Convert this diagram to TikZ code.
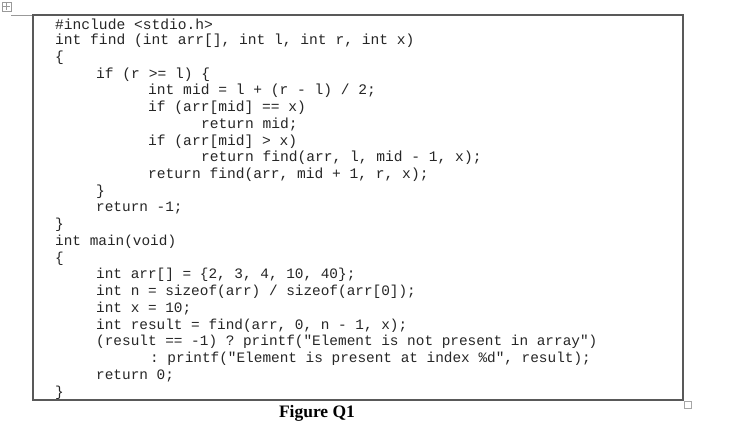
\documentclass[tikz,border=0pt]{standalone}
\usepackage{fontspec}
\setmainfont{Liberation Serif}
\setmonofont{Liberation Mono}
\begin{document}
\begin{tikzpicture}[x=1pt,y=-1pt,
  code/.style={anchor=west,inner sep=0pt,font=\ttfamily\fontsize{14.6}{16}\selectfont,text=black!85},
  codeb/.style={code,font=\ttfamily\fontsize{14.4}{16}\selectfont}]
\useasboundingbox (0,0) rectangle (753,423);
\fill[white] (0,0) rectangle (753,423);
\node[draw=black!40,minimum size=9pt,inner sep=0pt] (ic) at (6.5,6.5) {};
\draw[black!40,line width=0.6pt] (ic.center) ++(-3.5,0) -- ++(7,0) (ic.center) ++(0,-3.5) -- ++(0,7);
\draw[black!40] (11,15) -- (33,15);
\draw[black!65,line width=1.2pt] (33,15) rectangle (683,400);
\node[draw=black!35,minimum size=7pt,inner sep=0pt] (sq) at (688,405) {};
\def\ln#1#2#3{\node[code] at (#1,{24+16.75*#2}) {#3};}
\def\lb#1#2#3{\node[codeb] at (#1,{24+16.75*#2}) {#3};}
\ln{55}{0}{\#include <stdio.h>}
\ln{55}{1}{int find (int arr[], int l, int r, int x)}
\ln{55}{2}{\{}
\ln{96}{3}{if (r >= l) \{}
\ln{148}{4}{int mid = l + (r - l) / 2;}
\ln{148}{5}{if (arr[mid] == x)}
\ln{201}{6}{return mid;}
\ln{148}{7}{if (arr[mid] > x)}
\ln{201}{8}{return find(arr, l, mid - 1, x);}
\ln{148}{9}{return find(arr, mid + 1, r, x);}
\ln{96}{10}{\}}
\lb{96}{11}{return -1;}
\lb{55}{12}{\}}
\lb{55}{13}{int main(void)}
\lb{55}{14}{\{}
\lb{96}{15}{int arr[] = \{2, 3, 4, 10, 40\};}
\lb{96}{16}{int n = sizeof(arr) / sizeof(arr[0]);}
\lb{96}{17}{int x = 10;}
\lb{96}{18}{int result = find(arr, 0, n - 1, x);}
\lb{96}{19}{(result == -1) ? printf("Element is not present in array")}
\lb{150}{20}{: printf("Element is present at index \%d", result);}
\lb{96}{21}{return 0;}
\lb{55}{22}{\}}
\node[font=\bfseries\fontsize{17.5}{19}\selectfont,inner sep=0pt] (cap) at (317,413) {Figure Q1};
\end{tikzpicture}
\end{document}
